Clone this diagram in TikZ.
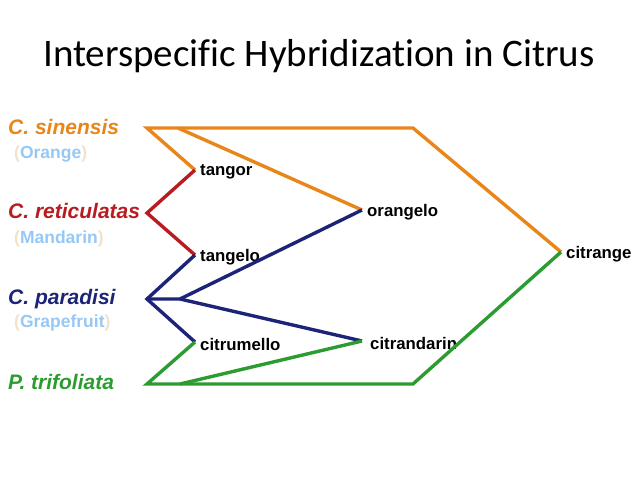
\documentclass[tikz,border=0pt]{standalone}
\usepackage{fontspec}
\setmainfont{Liberation Sans}
\newfontfamily\titlefont[Ligatures = NoCommon]{Carlito}
\usetikzlibrary{positioning}
\definecolor{sincol}{RGB}{232,134,26}
\definecolor{retcol}{RGB}{184,28,32}
\definecolor{parcol}{RGB}{28,36,120}
\definecolor{tricol}{RGB}{44,156,48}
\definecolor{namecol}{RGB}{150,200,245}
\definecolor{parencol}{RGB}{240,226,205}
\tikzstyle{species} = [font = \bfseries\itshape\fontsize{21}{25}\selectfont, anchor = base west, inner sep = 0pt]
\tikzstyle{common} = [text = namecol, font = \bfseries\fontsize{17.5}{21}\selectfont, anchor = base west, inner sep = 0pt]
\tikzstyle{hybrid} = [font = \bfseries\fontsize{16.8}{20}\selectfont, inner sep = 0pt, yshift = -2pt]
\tikzstyle{line} = [draw, line width = 3.4pt, line join = miter]
\newcommand{\paren}[1]{{\color{parencol}(}#1{\color{parencol})}}

\begin{document}
\begin{tikzpicture}[x = 1pt, y = -1pt, node distance = 5pt]
			\useasboundingbox (0, 0) rectangle (638, 478);
			% Title
			\node [anchor = base, inner sep = 0pt, font = \titlefont\fontsize{39}{47}\selectfont] (title) at (319, 67) {Interspecific Hybridization in Citrus};

			% Place species
			\node [species, text = sincol] (sinensis) at (8, 135) {C. sinensis};
			\node [common] (orange) at (14, 159) {\paren{Orange}};
			\node [species, text = retcol] (reticulatas) at (8, 219) {C. reticulatas};
			\node [common] (mandarin) at (14, 244) {\paren{Mandarin}};
			\node [species, text = parcol] (paradisi) at (8, 305) {C. paradisi};
			\node [common] (grapefruit) at (14, 328) {\paren{Grapefruit}};
			\node [species, text = tricol] (trifoliata) at (8, 390) {P. trifoliata};

			% Junction points
			\coordinate (sin) at (147, 128);
			\coordinate (sinmid) at (178, 128);
			\coordinate (sinend) at (413, 128);
			\coordinate (ret) at (147, 213);
			\coordinate (par) at (147, 299);
			\coordinate (parmid) at (180, 299);
			\coordinate (tri) at (147, 384);
			\coordinate (trimid) at (180, 384);
			\coordinate (triend) at (413, 384);

			% Place hybrids
			\coordinate (tangor) at (195, 170);
			\coordinate (tangelo) at (195, 255);
			\coordinate (orangelo) at (362, 210);
			\coordinate (citrumello) at (195, 342);
			\coordinate (citrandarin) at (362, 341);
			\coordinate (citrange) at (561, 252);
			\node [hybrid, right = of tangor] (tangorlabel) {tangor};
			\node [hybrid, right = of tangelo] (tangelolabel) {tangelo};
			\node [hybrid, right = of orangelo] (orangelolabel) {orangelo};
			\node [hybrid, right = of citrumello] (citrumellolabel) {citrumello};
			\node [hybrid, right = 8pt of citrandarin] (citrandarinlabel) {citrandarin};
			\node [hybrid, right = of citrange] (citrangelabel) {citrange};

			% Draw edges
			\path [line, sincol] (tangor) -- (sin) -- (sinend) -- (citrange);
			\path [line, sincol] (sinmid) -- (orangelo);
			\path [line, retcol] (tangor) -- (ret) -- (tangelo);
			\path [line, parcol] (tangelo) -- (par) -- (citrumello);
			\path [line, parcol] (par) -- (parmid) -- (orangelo);
			\path [line, parcol] (parmid) -- (citrandarin);
			\path [line, tricol] (citrumello) -- (tri) -- (triend) -- (citrange);
			\path [line, tricol] (trimid) -- (citrandarin);
		\end{tikzpicture}
\end{document}
